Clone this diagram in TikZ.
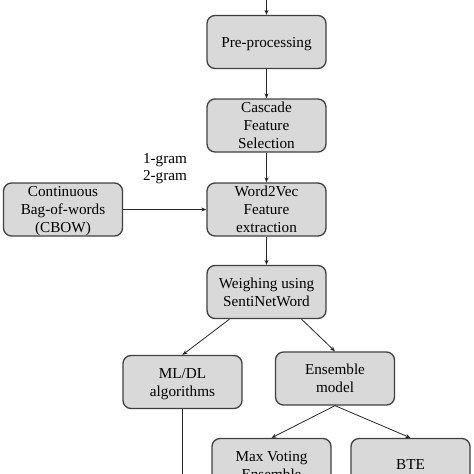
\documentclass[tikz,border=0pt]{standalone}
\usepackage{fontspec}
\setmainfont{Liberation Serif}
\usetikzlibrary{arrows.meta}
\definecolor{boxfill}{RGB}{217,217,217}
\definecolor{boxline}{RGB}{64,64,64}
\tikzset{
  stagebox/.style={draw=boxline, line width=1.3pt, fill=boxfill, rounded corners=8pt,
    minimum width=119pt, minimum height=53pt, inner sep=0pt, align=center,
    text depth=-2pt, font=\fontsize{15.2}{18}\selectfont},
  flow/.style={draw=black!85, line width=0.8pt, -{Stealth[length=5pt,width=4pt]}}
}
\begin{document}
\begin{tikzpicture}[x=1pt, y=-1pt]
  \useasboundingbox (0,0) rectangle (474,474);
  \clip (0,0) rectangle (474,474);
  % main chain
  \coordinate (entry) at (266.5,-2);
  \node[stagebox] (pre) at (266.5,42) {Pre-processing};
  \node[stagebox] (casc) at (266.5,125.5) {Cascade\\Feature\\Selection};
  \node[stagebox] (w2v) at (266.5,209.5) {Word2Vec\\Feature\\extraction};
  \node[stagebox] (cbow) at (63,209.5) {Continuous\\Bag-of-words\\(CBOW)};
  \node[align=center, font=\fontsize{15.2}{17.5}\selectfont] (ngram) at (165,168.5) {1-gram\\2-gram};
  \node[stagebox] (weigh) at (266.5,292) {Weighing using\\SentiNetWord};
  % classifiers
  \node[stagebox] (mldl) at (182.5,382) {ML/DL\\algorithms};
  \node[stagebox] (ens) at (335,378.5) {Ensemble\\model};
  \node[stagebox] (maxv) at (271.5,465) {Max Voting\\Ensemble};
  \node[stagebox] (bte) at (410.5,465) {BTE};
  \coordinate (exit) at (182.5,480);
  % connectors
  \draw[flow] (entry) -- (pre);
  \draw[flow] (pre) -- (casc);
  \draw[flow] (casc) -- (w2v);
  \draw[flow] (cbow) -- (w2v);
  \draw[flow] (w2v) -- (weigh);
  \draw[flow] ([xshift=-37pt]weigh.south) -- (mldl.north);
  \draw[flow] ([xshift=35pt]weigh.south) -- (ens.north);
  \draw[flow] (ens.south) -- (maxv.north);
  \draw[flow] (ens.south) -- (bte.north);
  \draw[draw=black!85, line width=0.8pt] (mldl) -- (exit);
\end{tikzpicture}
\end{document}
